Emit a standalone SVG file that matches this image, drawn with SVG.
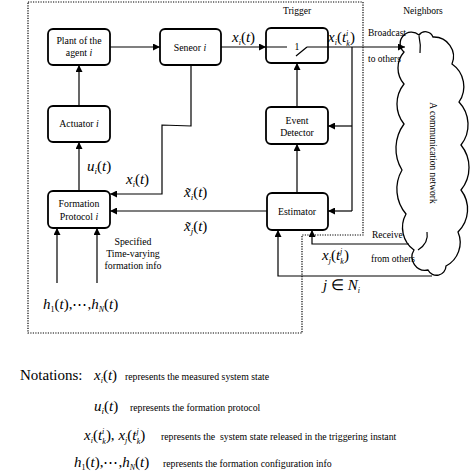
<svg xmlns="http://www.w3.org/2000/svg" width="474" height="474" viewBox="0 0 474 474">
<style>
  .box{fill:#fff;stroke:#000;stroke-width:1.8}
  .ln{fill:none;stroke:#000;stroke-width:1.2}
  .arr{fill:none;stroke:#000;stroke-width:1.2;marker-end:url(#ah)}
  .dot{fill:none;stroke:#000;stroke-width:1.2;stroke-dasharray:1.2 1.3}
  .t{font-family:"Liberation Serif","Times New Roman",serif;font-size:9.8px;fill:#000;text-anchor:middle}
  .s{font-family:"Liberation Serif","Times New Roman",serif;font-size:9.5px;fill:#000}
  .n{font-family:"Liberation Serif","Times New Roman",serif;font-size:9.8px;fill:#000}
  .m{font-family:"Liberation Serif","Times New Roman",serif;font-size:15px;fill:#000}
  .i{font-style:italic}
</style>
<defs>
  <marker id="ah" viewBox="0 0 10 10" refX="10" refY="5" markerWidth="9" markerHeight="7" markerUnits="userSpaceOnUse" orient="auto">
    <path d="M0,0 L10,5 L0,10 z" fill="#000"/>
  </marker>
</defs>
<rect width="474" height="474" fill="#fff"/>

<path class="dot" d="M28,2 H363 V235 H302 V333 H28 Z"/>

<text class="s" x="297" y="14" text-anchor="middle">Trigger</text>
<text class="s" x="423" y="14" text-anchor="middle">Neighbors</text>

<g id="cloud">
  <path fill="#fff" stroke="#000" stroke-width="1.3" d="M404,52 A11,11 0 0 1 419,35 A8,8 0 0 1 433,37 A19.6,19.6 0 0 1 452,64 A27.3,27.3 0 0 1 459,102 A32.9,32.9 0 0 1 461,145 A35.6,35.6 0 0 1 461,190 A31.7,31.7 0 0 1 458,232 A26.6,26.6 0 0 1 446,266 A9.5,9.5 0 0 1 428,270 A13.3,13.3 0 0 1 414,250 A27.8,27.8 0 0 1 406,214 A38.4,38.4 0 0 1 402,170 A41.3,41.3 0 0 1 404,124 A32,32 0 0 1 404,84 A24.3,24.3 0 0 1 404,52 Z"/>
  <path class="ln" d="M419,36 Q421,45 420,53"/>
  <path class="ln" d="M427,232 Q429,243 418,250"/>
  <text class="s" transform="translate(430,153) rotate(90)" text-anchor="middle">A communication network</text>
</g>

<g id="plant"><rect class="box" x="48" y="29" width="62" height="36" rx="5"/>
  <text class="t" x="79" y="44">Plant of the</text><text class="t" x="79" y="56">agent <tspan class="i">i</tspan></text></g>
<g id="sensor"><rect class="box" x="160" y="29" width="61" height="36" rx="5"/>
  <text class="t" x="190" y="51">Seneor <tspan class="i">i</tspan></text></g>
<g id="actuator"><rect class="box" x="48" y="106" width="62" height="36" rx="5"/>
  <text class="t" x="79" y="127">Actuator <tspan class="i">i</tspan></text></g>
<g id="formation"><rect class="box" x="48" y="191" width="62" height="37" rx="5"/>
  <text class="t" x="79" y="207">Formation</text><text class="t" x="79" y="220">Protocol <tspan class="i">i</tspan></text></g>
<g id="trigger"><rect class="box" x="266" y="28" width="62" height="35" rx="5"/>
  <text class="t" x="297" y="50">1</text></g>
<g id="event"><rect class="box" x="266" y="107" width="62" height="37" rx="5"/>
  <text class="t" x="297" y="124">Event</text><text class="t" x="297" y="136">Detector</text></g>
<g id="estimator"><rect class="box" x="267" y="193" width="61" height="37" rx="5"/>
  <text class="t" x="297" y="215">Estimator</text></g>

<g id="connectors">
  <path class="arr" d="M110,47 H160"/>
  <path class="arr" d="M221,47 H266"/>
  <path class="ln" d="M266,47 H287 M296,56 L307,47"/>
  <path class="arr" d="M307,47 H405"/>
  <path class="ln" d="M352,47 V211"/>
  <path class="arr" d="M352,126 H328"/>
  <path class="arr" d="M352,211 H328"/>
  <path class="arr" d="M297,107 V63"/>
  <path class="arr" d="M297,193 V144"/>
  <path class="arr" d="M267,211 H110"/>
  <path class="arr" d="M191,65 V126 L162,125 V194 H110"/>
  <path class="arr" d="M79,191 V142"/>
  <path class="arr" d="M79,106 V65"/>
  <path class="arr" d="M57,283 V228"/>
  <path class="arr" d="M97,283 V228"/>
  <path class="arr" d="M409,244 H312 V230"/>
  <path class="arr" d="M432,276 H278 V230"/>
</g>

<g id="labels">
  <text class="s" x="368" y="36">Broadcast</text>
  <text class="s" x="368" y="62">to others</text>
  <text class="s" x="372" y="238">Receive</text>
  <text class="s" x="371" y="262">from others</text>
  <text class="t" x="133" y="245">Specified</text>
  <text class="t" x="133" y="257">Time-varying</text>
  <text class="t" x="133" y="269">formation info</text>

  <text class="m" x="232" y="42"><tspan class="i">x</tspan><tspan font-size="8" dy="3" class="i">i</tspan><tspan dy="-3">(</tspan><tspan class="i">t</tspan>)</text>
  <text class="m" x="328" y="42"><tspan class="i">x</tspan><tspan font-size="8" dy="3" class="i">i</tspan><tspan dy="-3">(</tspan><tspan class="i">t</tspan><tspan font-size="8" dy="-6" class="i">i</tspan><tspan font-size="8" dx="-2" dy="10" class="i">k</tspan><tspan dy="-4">)</tspan></text>
  <text class="m" x="87" y="171"><tspan class="i">u</tspan><tspan font-size="9" dy="3" class="i">i</tspan><tspan dy="-3">(</tspan><tspan class="i">t</tspan>)</text>
  <text class="m" x="126" y="184"><tspan class="i">x</tspan><tspan font-size="8" dy="3" class="i">i</tspan><tspan dy="-3">(</tspan><tspan class="i">t</tspan>)</text>
  <text class="m" x="184" y="197"><tspan class="i">x̃</tspan><tspan font-size="9" dy="3" class="i">i</tspan><tspan dy="-3">(</tspan><tspan class="i">t</tspan>)</text>
  <text class="m" x="184" y="231"><tspan class="i">x̃</tspan><tspan font-size="9" dy="3" class="i">j</tspan><tspan dy="-3">(</tspan><tspan class="i">t</tspan>)</text>
  <text class="m" x="43" y="309" font-size="16"><tspan class="i">h</tspan><tspan font-size="8" dy="3">1</tspan><tspan dy="-3">(</tspan><tspan class="i">t</tspan>),⋯,<tspan class="i">h</tspan><tspan font-size="8" dy="3" class="i">N</tspan><tspan dy="-3">(</tspan><tspan class="i">t</tspan>)</text>
  <text class="m" x="322" y="260"><tspan class="i">x</tspan><tspan font-size="8" dy="3" class="i">j</tspan><tspan dy="-3">(</tspan><tspan class="i">t</tspan><tspan font-size="8" dy="-6" class="i">j</tspan><tspan font-size="8" dx="-2" dy="10" class="i">k</tspan><tspan dy="-4">)</tspan></text>
  <text class="m" x="323" y="290"><tspan class="i">j</tspan> ∈ <tspan class="i">N</tspan><tspan font-size="8" dy="3" class="i">i</tspan></text>
</g>

<g id="notations">
  <text class="m" x="20" y="380" font-size="16">Notations:</text>
  <text class="m" x="94" y="380"><tspan class="i">x</tspan><tspan font-size="8" dy="3" class="i">i</tspan><tspan dy="-3">(</tspan><tspan class="i">t</tspan>)</text>
  <text class="n" x="125" y="380">represents the measured system state</text>
  <text class="m" x="94" y="411" font-size="16"><tspan class="i">u</tspan><tspan font-size="9" dy="3" class="i">i</tspan><tspan dy="-3">(</tspan><tspan class="i">t</tspan>)</text>
  <text class="n" x="130" y="411">represents the formation protocol</text>
  <text class="m" x="84" y="440"><tspan class="i">x</tspan><tspan font-size="8" dy="3" class="i">i</tspan><tspan dy="-3">(</tspan><tspan class="i">t</tspan><tspan font-size="8" dy="-6" class="i">i</tspan><tspan font-size="8" dx="-2" dy="10" class="i">k</tspan><tspan dy="-4">),</tspan> <tspan class="i">x</tspan><tspan font-size="8" dy="3" class="i">j</tspan><tspan dy="-3">(</tspan><tspan class="i">t</tspan><tspan font-size="8" dy="-6" class="i">j</tspan><tspan font-size="8" dx="-2" dy="10" class="i">k</tspan><tspan dy="-4">)</tspan></text>
  <text class="n" x="161" y="440" xml:space="preserve">represents the  system state released in the triggering instant</text>
  <text class="m" x="74" y="467" font-size="16"><tspan class="i">h</tspan><tspan font-size="8" dy="3">1</tspan><tspan dy="-3">(</tspan><tspan class="i">t</tspan>),⋯,<tspan class="i">h</tspan><tspan font-size="8" dy="3" class="i">N</tspan><tspan dy="-3">(</tspan><tspan class="i">t</tspan>)</text>
  <text class="n" x="163" y="467">represents the formation configuration info</text>
</g>
</svg>
